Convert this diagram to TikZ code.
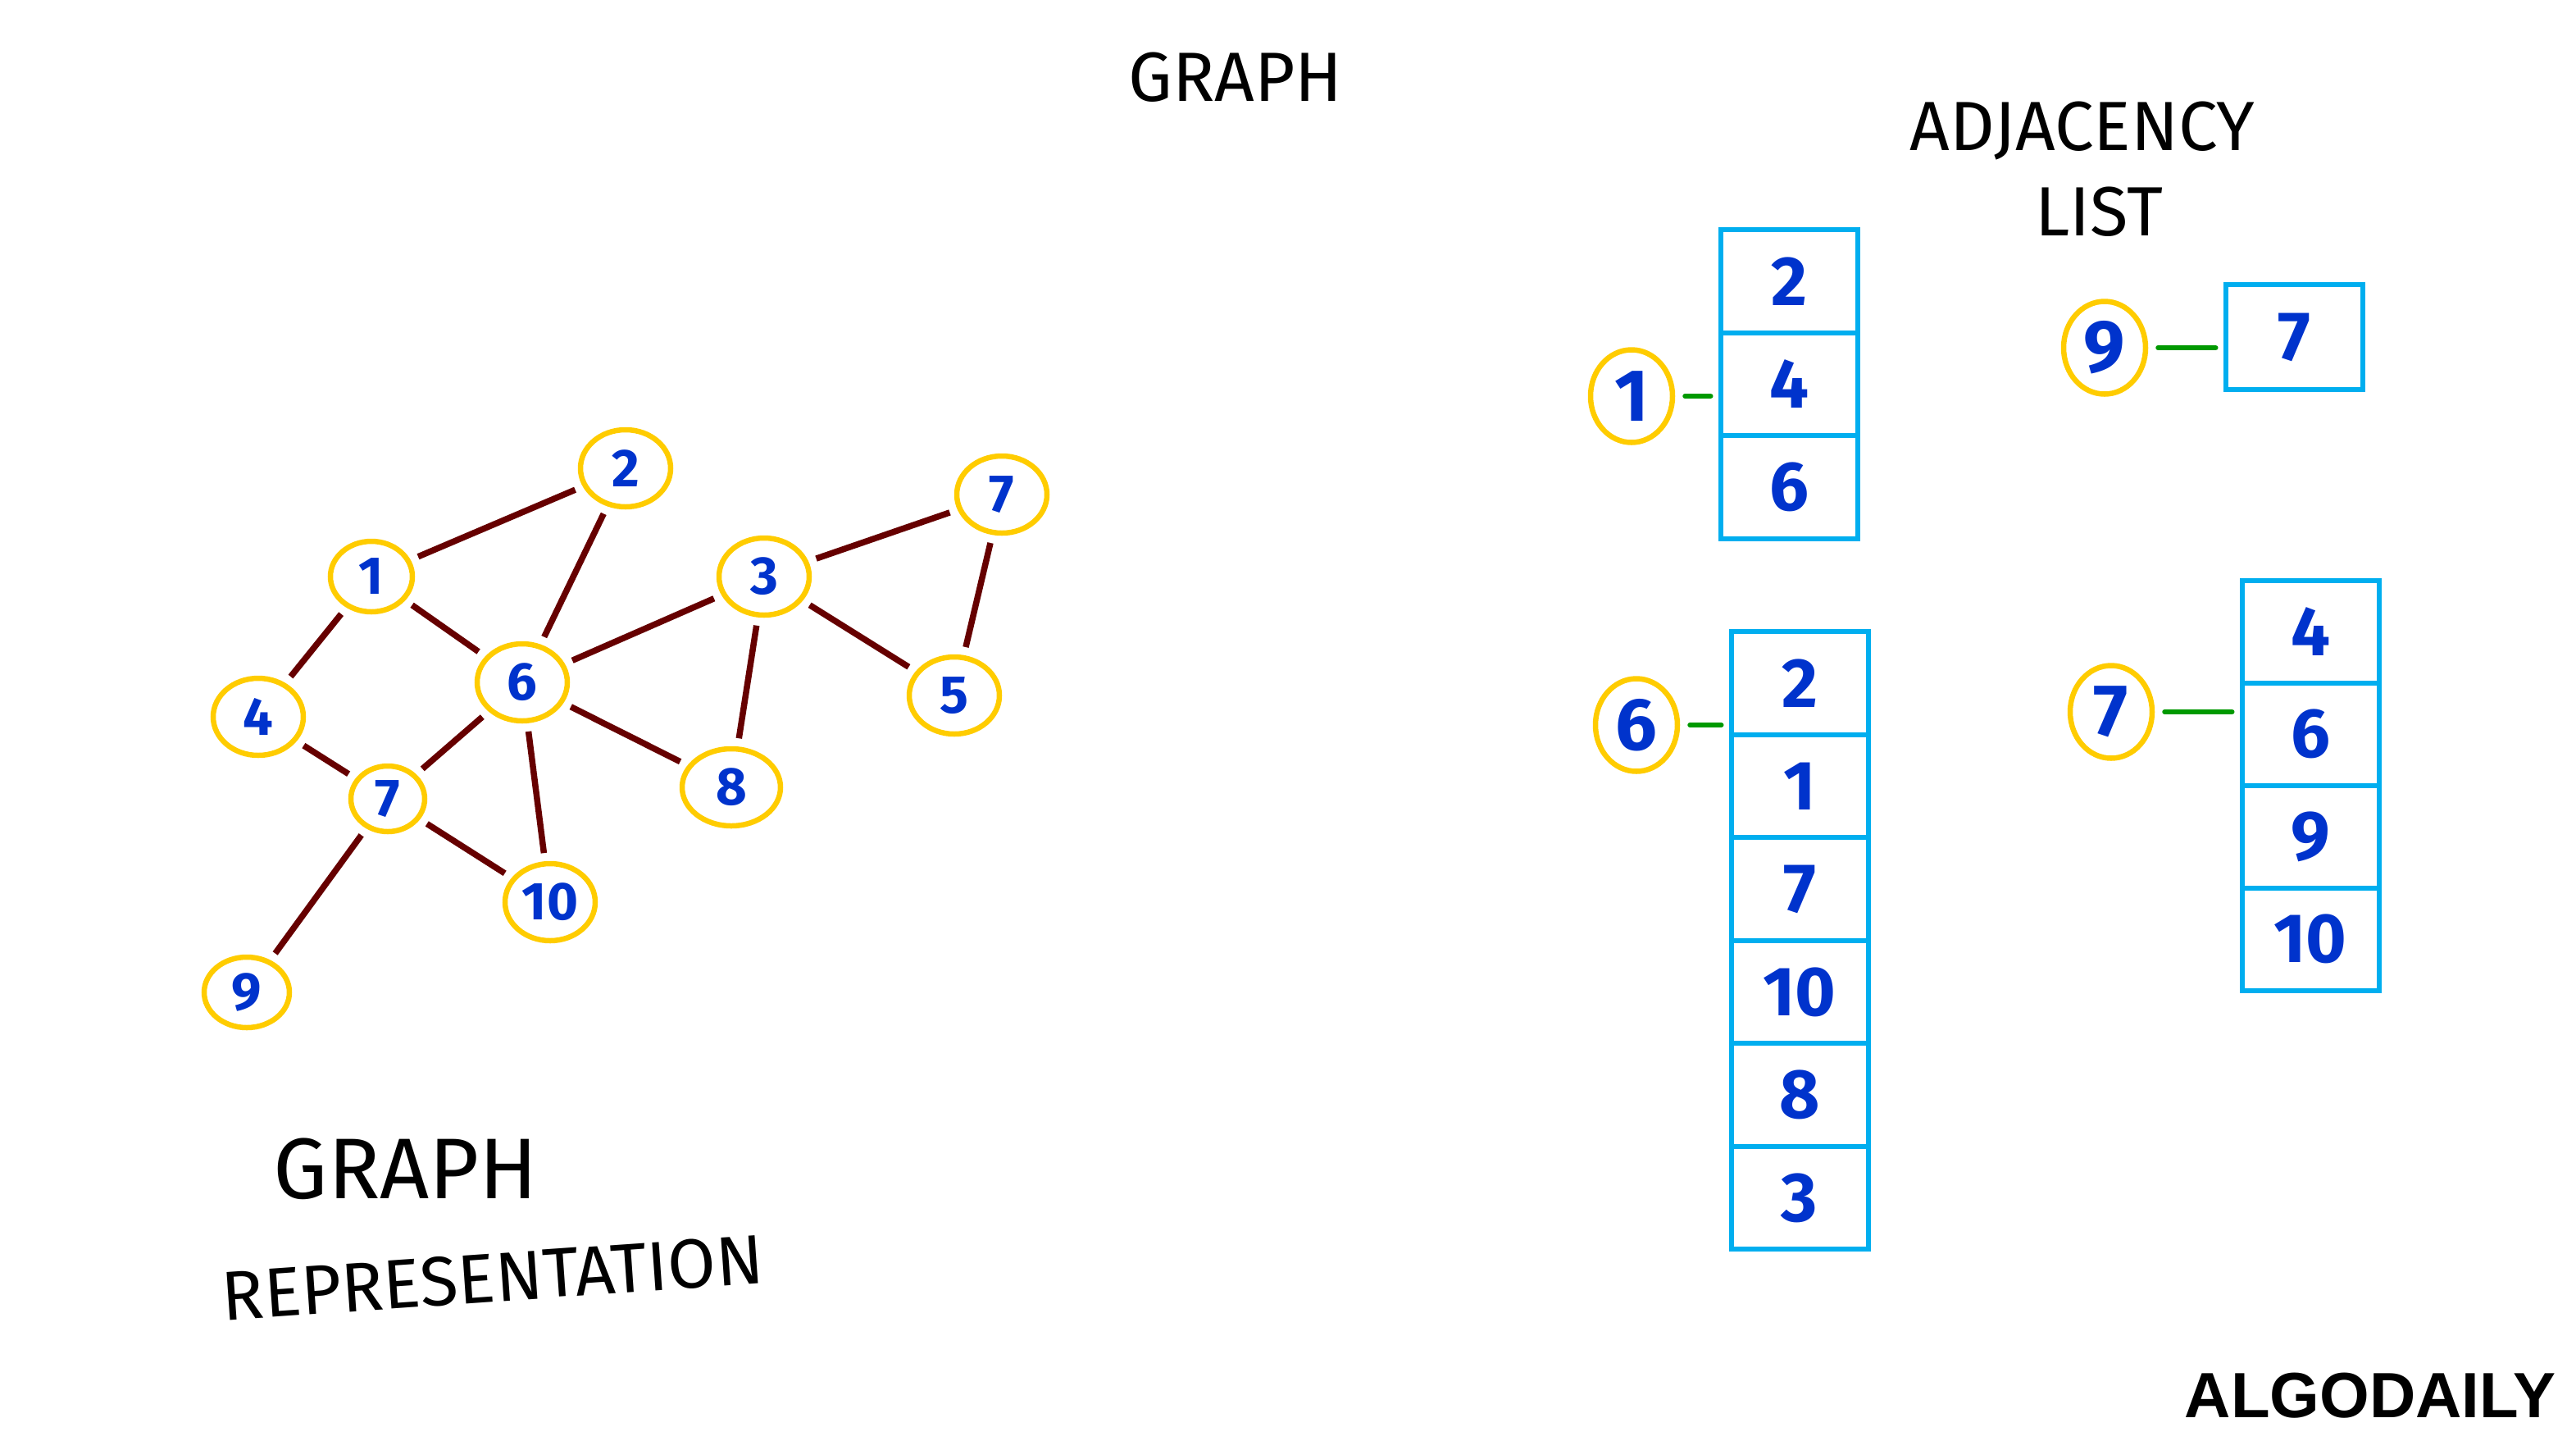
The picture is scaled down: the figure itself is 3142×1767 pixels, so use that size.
\documentclass[tikz,border=0pt]{standalone}
\usepackage{fontspec}
\setmainfont{Fira Sans}
\newfontfamily\logofont{Liberation Sans}
\usetikzlibrary{shapes.geometric, positioning}
\definecolor{vertexgold}{HTML}{FFCC00}
\definecolor{digitblue}{HTML}{0033CC}
\definecolor{edgered}{HTML}{660000}
\definecolor{cellcyan}{HTML}{00AEEF}
\definecolor{linkgreen}{HTML}{009900}

\begin{document}
\begin{tikzpicture}[
    x=0.1mm, y=-0.1mm,
    vertex/.style={ellipse, draw=vertexgold, line width=0.65mm, inner sep=0pt, minimum width=11mm, minimum height=9.4mm, text=digitblue, font=\bfseries\fontsize{6.5mm}{6.5mm}\selectfont},
    head/.style={vertex, minimum width=10mm, minimum height=11.3mm, font=\bfseries\fontsize{9mm}{9mm}\selectfont},
    cell/.style={rectangle, draw=cellcyan, line width=0.6mm, outer sep=0pt, minimum width=16.7mm, minimum height=12.55mm, text=digitblue, font=\bfseries\fontsize{8.5mm}{8.5mm}\selectfont},
    graphedge/.style={draw=edgered, line width=0.75mm, shorten >=1mm, shorten <=1mm},
    link/.style={draw=linkgreen, line width=0.6mm, line cap=round, shorten >=1.2mm, shorten <=1.2mm},
    heading/.style={font=\fontsize{8.5mm}{8.5mm}\selectfont}
]
    \useasboundingbox (0,0) rectangle (3142,1767);

    % titles
    \node[heading] (toptitle) at (1507,94) {GRAPH};
    \node[heading] (adjtitle) at (2540,160) {ADJACENCY};
    \node[heading] (listtitle) at (2560,258) {LIST};
    \node[heading, font=\fontsize{10.5mm}{10.5mm}\selectfont] (graphtitle) at (495,1425) {GRAPH};
    \node[heading, rotate=4] (reptitle) at (601,1558) {REPRESENTATION};
    \node[font=\logofont\bfseries\fontsize{7.8mm}{7.8mm}\selectfont] (logo) at (2891,1702) {ALGODAILY};

    % graph
    \node[vertex] (n2) at (763,571) {2};
    \node[vertex, minimum width=10mm, minimum height=8.6mm] (n1) at (453,703) {1};
    \node[vertex] (n3) at (932,703) {3};
    \node[vertex] (n7b) at (1222,603) {7};
    \node[vertex] (n4) at (315,874) {4};
    \node[vertex] (n6) at (637,832) {6};
    \node[vertex] (n5) at (1164,848) {5};
    \node[vertex, minimum width=9mm, minimum height=8mm] (n7) at (473,974) {7};
    \node[vertex, minimum width=12mm] (n8) at (892,960) {8};
    \node[vertex] (n10) at (671,1100) {10};
    \node[vertex, minimum width=10.4mm, minimum height=8.6mm] (n9) at (301,1210) {9};

    \draw[graphedge] (n1) -- (n2);
    \draw[graphedge] (n2) -- (n6);
    \draw[graphedge] (n1) -- (n6);
    \draw[graphedge] (n1) -- (n4);
    \draw[graphedge] (n4) -- (n7);
    \draw[graphedge] (n6) -- (n7);
    \draw[graphedge] (n6) -- (n3);
    \draw[graphedge] (n6) -- (n8);
    \draw[graphedge] (n6) -- (n10);
    \draw[graphedge] (n7) -- (n10);
    \draw[graphedge] (n7) -- (n9);
    \draw[graphedge] (n3) -- (n7b);
    \draw[graphedge] (n3) -- (n5);
    \draw[graphedge] (n3) -- (n8);
    \draw[graphedge] (n7b) -- (n5);

    % adjacency list of 1
    \node[head] (head1) at (1990,483) {1};
    \node[cell] (c1a) at (2182,343) {2};
    \node[cell, below=0pt of c1a] (c1b) {4};
    \node[cell, below=0pt of c1b] (c1c) {6};
    \draw[link] (head1.east) -- (head1.east -| c1b.west);

    % adjacency list of 9
    \node[head] (head9) at (2567,424) {9};
    \node[cell, minimum height=12.8mm] (c9a) at (2798,411) {7};
    \draw[link] (head9.east) -- (head9.east -| c9a.west);

    % adjacency list of 6
    \node[head] (head6) at (1996,884) {6};
    \node[cell] (c6a) at (2195,833) {2};
    \node[cell, below=0pt of c6a] (c6b) {1};
    \node[cell, below=0pt of c6b] (c6c) {7};
    \node[cell, below=0pt of c6c] (c6d) {10};
    \node[cell, below=0pt of c6d] (c6e) {8};
    \node[cell, below=0pt of c6e] (c6f) {3};
    \draw[link] (head6.east) -- (head6.east -| c6a.west);

    % adjacency list of 7
    \node[head] (head7) at (2575,868) {7};
    \node[cell, minimum height=12.5mm] (c7a) at (2818,770) {4};
    \node[cell, minimum height=12.5mm, below=0pt of c7a] (c7b) {6};
    \node[cell, minimum height=12.5mm, below=0pt of c7b] (c7c) {9};
    \node[cell, minimum height=12.5mm, below=0pt of c7c] (c7d) {10};
    \draw[link] (head7.east) -- (head7.east -| c7b.west);
\end{tikzpicture}
\end{document}
